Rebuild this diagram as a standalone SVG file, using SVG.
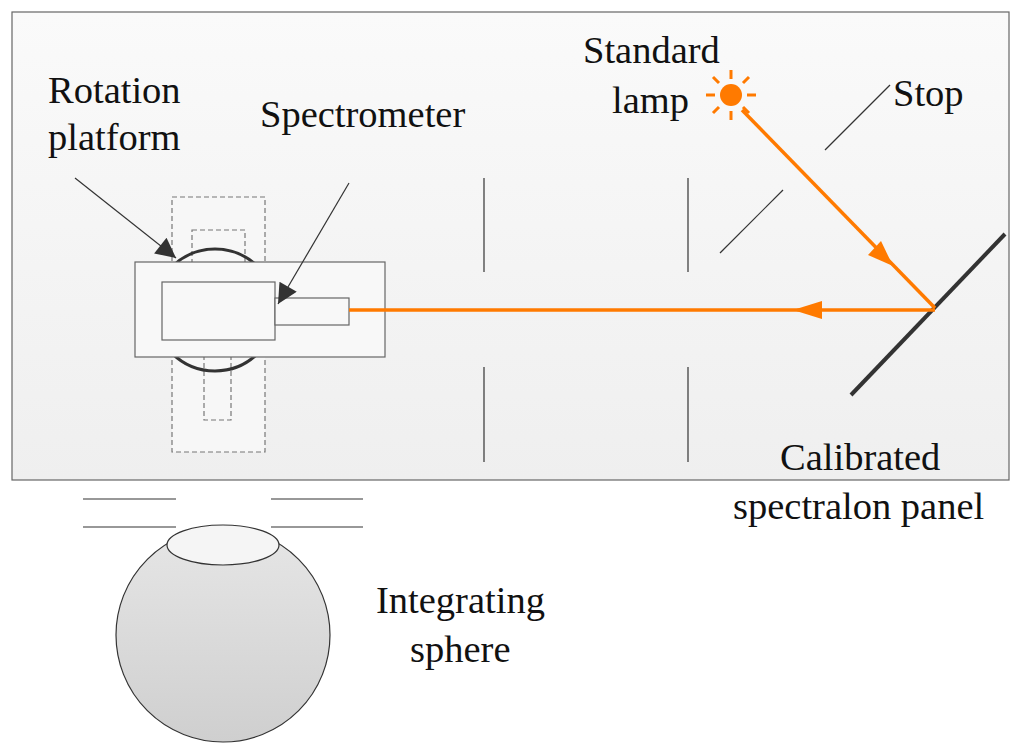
<svg xmlns="http://www.w3.org/2000/svg" width="1024" height="754" viewBox="0 0 1024 754">
<defs>
<linearGradient id="bg" x1="0" y1="0" x2="0" y2="1"><stop offset="0" stop-color="#fafafa"/><stop offset="1" stop-color="#efefef"/></linearGradient>
<linearGradient id="sph" x1="0" y1="0" x2="0" y2="1"><stop offset="0" stop-color="#e6e6e6"/><stop offset="1" stop-color="#cfcfcf"/></linearGradient>
<marker id="ah" viewBox="0 0 10 10" refX="10" refY="5" markerWidth="24" markerHeight="20" orient="auto" markerUnits="userSpaceOnUse"><path d="M0,0L10,5L0,10z" fill="#333"/></marker>
</defs>
<style>
text{font-family:"Liberation Serif",serif;font-size:38.5px;fill:#111}
.thin{stroke:#333;stroke-width:1.2;fill:none}
.dash{stroke:#777;stroke-width:1.2;stroke-dasharray:5,3;fill:#f7f7f7}
.box{stroke:#666;stroke-width:1.2;fill:#f8f8f8}
.beam{stroke:#ff7a00;stroke-width:3.5;fill:none}
</style>
<rect x="12" y="12" width="997" height="468" fill="url(#bg)" stroke="#666" stroke-width="1.2"/>
<g id="platform">
<rect class="dash" x="172" y="197" width="93" height="255"/>
<rect class="dash" x="192" y="230" width="53" height="40"/>
<rect class="dash" x="204" y="350" width="27" height="70"/>
<circle cx="215" cy="310" r="61" fill="none" stroke="#333" stroke-width="3"/>
<rect class="box" x="135" y="262" width="250" height="95"/>
</g>
<g id="spectrometer">
<rect class="box" x="162" y="282" width="113" height="58"/>
<rect class="box" x="275" y="298" width="74" height="27"/>
</g>
<g id="stops" class="thin">
<line x1="484" y1="178" x2="484" y2="272"/><line x1="484" y1="367" x2="484" y2="462"/>
<line x1="688" y1="178" x2="688" y2="272"/><line x1="688" y1="367" x2="688" y2="462"/>
<line x1="720" y1="253" x2="783" y2="190"/>
</g>
<g id="lamp" fill="#ff7a00" stroke="#ff7a00" stroke-width="3">
<circle cx="731" cy="95" r="11" stroke="none"/>
<path d="M731,79V70M731,111V120M715,95H706M747,95H756M719,83L713,77M743,83L749,77M719,107L713,113M743,107L749,113"/>
</g>
<g id="panel"><line x1="851" y1="395" x2="1005" y2="234" stroke="#333" stroke-width="4"/></g>
<g id="sphere">
<line class="thin" x1="83" y1="499" x2="176" y2="499"/><line class="thin" x1="83" y1="527" x2="176" y2="527"/>
<line class="thin" x1="271" y1="499" x2="363" y2="499"/><line class="thin" x1="271" y1="527" x2="363" y2="527"/>
<circle cx="223" cy="635" r="107" fill="url(#sph)" stroke="#333" stroke-width="1.2"/>
<ellipse cx="223" cy="545" rx="56" ry="20" fill="#f5f5f5" stroke="#333" stroke-width="1.2"/>
</g>
<g id="connectors">
<path class="beam" d="M742,110L935,308"/>
<path d="M893,266L868,255L881,241z" fill="#ff7a00"/>
<line class="beam" x1="935" y1="310" x2="349" y2="310"/>
<path d="M793,310L822,301L822,319z" fill="#ff7a00"/>
<line class="thin" x1="75" y1="178" x2="176" y2="258" marker-end="url(#ah)"/>
<line class="thin" x1="349" y1="183" x2="278" y2="304" marker-end="url(#ah)"/>
<line class="thin" x1="890" y1="85" x2="825" y2="150"/>
</g>
<g id="labels">
<text x="48" y="103">Rotation</text><text x="48" y="150">platform</text>
<text x="260" y="127">Spectrometer</text>
<text x="583" y="63">Standard</text><text x="612" y="113">lamp</text>
<text x="893" y="106">Stop</text>
<text x="780" y="470">Calibrated</text><text x="733" y="519">spectralon panel</text>
<text x="376" y="613">Integrating</text><text x="410" y="662">sphere</text>
</g>
</svg>
